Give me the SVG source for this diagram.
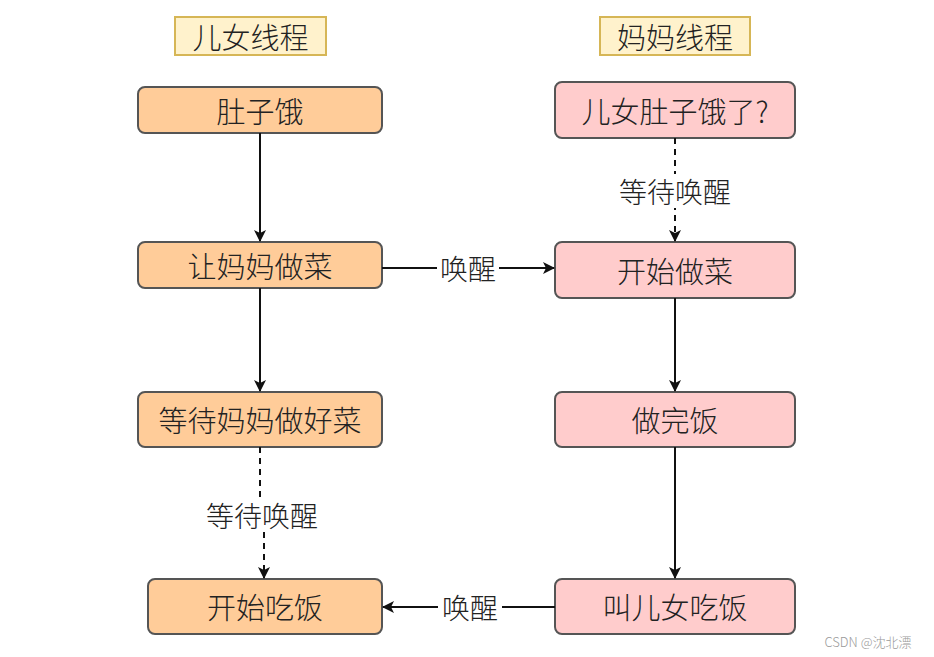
<svg xmlns="http://www.w3.org/2000/svg" width="934" height="657" viewBox="0 0 934 657">
<defs>
<style>
text{font-family:"Noto Sans CJK SC","Noto Sans",sans-serif;fill:#222;text-anchor:middle;dominant-baseline:central;font-weight:300}
.t{font-size:29px}
.l{font-size:28px}
.title{fill:#fff2cc;stroke:#d6b656;stroke-width:2}
.o{fill:#ffcc99;stroke:#555;stroke-width:2}
.p{fill:#ffcccc;stroke:#555;stroke-width:2}
.c{fill:none;stroke:#111;stroke-width:2}
.d{stroke-dasharray:6 5}
.lb{fill:#fff}
</style>
<marker id="a" viewBox="0 0 12 12" refX="11" refY="6" markerWidth="12" markerHeight="12" markerUnits="userSpaceOnUse" orient="auto">
<path d="M0,0 L12,6 L0,12 L3,6 Z" fill="#111"/>
</marker>
</defs>
<rect width="934" height="657" fill="#fff"/>
<g id="title-left"><rect class="title" x="175" y="17" width="151" height="38"/><text class="t" x="250.5" y="36">儿女线程</text></g>
<g id="title-right"><rect class="title" x="600" y="17" width="150" height="38"/><text class="t" x="675" y="36">妈妈线程</text></g>
<g id="n1"><rect class="o" x="138" y="87" width="244" height="46" rx="7"/><text class="t" x="260" y="110">肚子饿</text></g>
<g id="n2"><rect class="o" x="138" y="242" width="244" height="46" rx="7"/><text class="t" x="260" y="265">让妈妈做菜</text></g>
<g id="n3"><rect class="o" x="138" y="392" width="244" height="55" rx="7"/><text class="t" x="260" y="419">等待妈妈做好菜</text></g>
<g id="n4"><rect class="o" x="148" y="579" width="234" height="55" rx="7"/><text class="t" x="265" y="606">开始吃饭</text></g>
<g id="m1"><rect class="p" x="555" y="82" width="240" height="56" rx="7"/><text class="t" x="675" y="110">儿女肚子饿了?</text></g>
<g id="m2"><rect class="p" x="555" y="242" width="240" height="56" rx="7"/><text class="t" x="675" y="270">开始做菜</text></g>
<g id="m3"><rect class="p" x="555" y="392" width="240" height="55" rx="7"/><text class="t" x="675" y="419">做完饭</text></g>
<g id="m4"><rect class="p" x="555" y="579" width="240" height="55" rx="7"/><text class="t" x="675" y="606">叫儿女吃饭</text></g>
<g id="connectors">
<path class="c" d="M260 133 V241" marker-end="url(#a)"/>
<path class="c" d="M260 288 V391" marker-end="url(#a)"/>
<path class="c d" d="M260 447 V498 M264 532 V578" marker-end="url(#a)"/>
<rect class="lb" x="198" y="498" width="128" height="34"/>
<text class="l" x="262" y="515">等待唤醒</text>
<path class="c" d="M382 268 H554" marker-end="url(#a)"/>
<rect class="lb" x="437" y="252" width="62" height="32"/>
<text class="l" x="468" y="268">唤醒</text>
<path class="c d" d="M675 138 V241" marker-end="url(#a)"/>
<rect class="lb" x="611" y="174" width="128" height="34"/>
<text class="l" x="675" y="191">等待唤醒</text>
<path class="c" d="M675 298 V391" marker-end="url(#a)"/>
<path class="c" d="M675 447 V578" marker-end="url(#a)"/>
<path class="c" d="M555 607 H383" marker-end="url(#a)"/>
<rect class="lb" x="438" y="591" width="64" height="32"/>
<text class="l" x="470" y="607">唤醒</text>
</g>
<text x="868" y="641" style="font-size:13px;fill:#999">CSDN @沈北漂</text>
</svg>
